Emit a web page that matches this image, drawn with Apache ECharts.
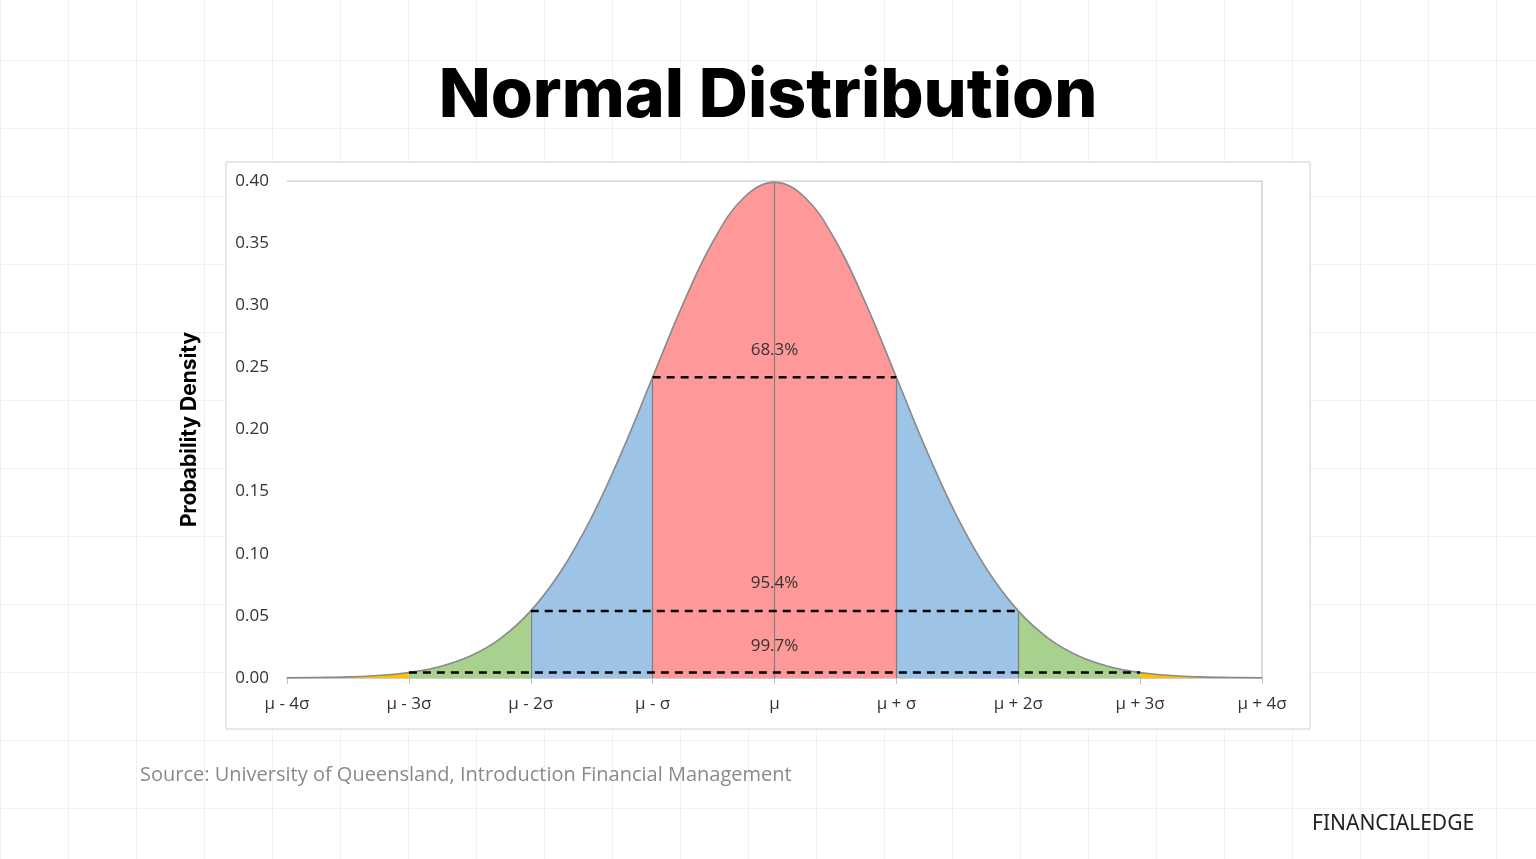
<!DOCTYPE html>
<html>
<head>
<meta charset="utf-8">
<script src="https://cdn.jsdelivr.net/npm/echarts@6/dist/echarts.min.js"></script>
<style>
  html, body { margin:0; padding:0; width:1536px; height:859px; overflow:hidden; background:#fff; }
  body {
    background-image:
      linear-gradient(to right, #f1f1f1 1px, transparent 1px),
      linear-gradient(to bottom, #f1f1f1 1px, transparent 1px);
    background-size: 68px 68px;
    background-position: 0px -8px;
  }
  #main { width:1536px; height:859px; }
</style>
</head>
<body>
<div id="main"></div>
<script>
// x in units of sigma, y = probability density
var xs = [-4,-3.75,-3.5,-3.25,-3,-2.75,-2.5,-2.25,-2,-1.75,-1.5,-1.25,-1,-0.75,-0.5,-0.25,0,
          0.25,0.5,0.75,1,1.25,1.5,1.75,2,2.25,2.5,2.75,3,3.25,3.5,3.75,4];
var ys = [0.0001,0.0004,0.0009,0.0020,0.0044,0.0091,0.0175,0.0317,0.0540,0.0863,0.1295,0.1826,0.2420,0.3011,0.3521,0.3867,0.3989,
          0.3867,0.3521,0.3011,0.2420,0.1826,0.1295,0.0863,0.0540,0.0317,0.0175,0.0091,0.0044,0.0020,0.0009,0.0004,0.0001];
var tickLabels = {'-4':'μ - 4σ','-3':'μ - 3σ','-2':'μ - 2σ','-1':'μ - σ','0':'μ','1':'μ + σ','2':'μ + 2σ','3':'μ + 3σ','4':'μ + 4σ'};
var bands = [ // [from, to, colour]
  [-4,-3,'#ffc000'],[-3,-2,'#a9d18e'],[-2,-1,'#9dc3e6'],[-1,1,'#ff9999'],
  [1,2,'#9dc3e6'],[2,3,'#a9d18e'],[3,4,'#ffc000']
];
var ranges = [ // [half-width in sigma, dashed level, label, label y]
  [1,0.242,'68.3%',0.264],[2,0.054,'95.4%',0.076],[3,0.0044,'99.7%',0.026]
];

function seg(a,b){
  var out=[];
  for(var i=0;i<xs.length;i++){ if(xs[i]>=a && xs[i]<=b) out.push([xs[i],ys[i]]); }
  return out;
}
function yAt(x){ return ys[xs.indexOf(x)]; }

var series = bands.map(function(b){
  return { type:'line', data:seg(b[0],b[1]), smooth:0.4, showSymbol:false, silent:true,
    lineStyle:{width:0}, areaStyle:{color:b[2], opacity:1} };
});

var vLines = [-2,-1,0,1,2].map(function(x){
  return [{coord:[x,0]},{coord:[x,yAt(x)]}];
});

series.push({
  type:'line', data:xs.map(function(x,i){return [x,ys[i]];}), smooth:0.4, showSymbol:false,
  lineStyle:{color:'#8a8a8a', width:1.6}, z:5,
  markLine:{ silent:true, symbol:'none', label:{show:false},
    lineStyle:{type:'solid', color:'#7f7f7f', width:1.2},
    data: vLines },
  markPoint:{ symbol:'circle', symbolSize:0, silent:true,
    label:{show:true, color:'#333', fontSize:17, fontFamily:'Open Sans', formatter:'{b}'},
    data: ranges.map(function(r){ return {name:r[2], coord:[0,r[3]]}; }) }
});

ranges.forEach(function(r){
  series.push({ type:'line', data:[[-r[0],r[1]],[r[0],r[1]]], showSymbol:false, silent:true, z:6,
    lineStyle:{type:[8,6], color:'#000', width:2.5} });
});

var chart = echarts.init(document.getElementById('main'));
chart.setOption({
  animation:false,
  title:{ text:'Normal Distribution', left:'center', top:58,
    textStyle:{fontFamily:'Inter', fontWeight:800, fontSize:68, color:'#000'} },
  graphic:[
    {type:'rect', shape:{x:226,y:162,width:1084,height:567}, style:{fill:'#fff', stroke:'#d0d0d0', lineWidth:1}, z:-10},
    {type:'text', left:140, top:765, style:{text:'Source: University of Queensland, Introduction Financial Management', fill:'#8a8a8a', font:'20px "Open Sans"'}},
    {type:'text', left:1312, top:814, style:{text:'FINANCIALEDGE', fill:'#222', font:'21px "Liberation Sans Narrow", "Noto Sans"'}}
  ],
  grid:{ left:287, right:274, top:181, bottom:181 },
  xAxis:{ type:'value', min:-4, max:4, interval:1,
    axisLine:{show:true, lineStyle:{color:'#bfbfbf', width:1.5}},
    axisTick:{show:true, length:6, lineStyle:{color:'#bfbfbf'}},
    splitLine:{show:false},
    axisLabel:{ margin:18, color:'#333', fontSize:17, fontFamily:'Open Sans',
      formatter:function(v){ return tickLabels[String(v)]; } } },
  yAxis:{ type:'value', min:0, max:0.4, interval:0.05,
    name:'Probability Density', nameLocation:'middle', nameGap:87, nameRotate:90,
    nameTextStyle:{fontFamily:'Inter', fontWeight:'bold', fontSize:21, color:'#000'},
    axisLine:{show:true, lineStyle:{color:'#bfbfbf', width:1.5}},
    axisTick:{show:true, length:5, lineStyle:{color:'#bfbfbf'}},
    splitLine:{show:false},
    axisLabel:{ color:'#333', fontSize:17, fontFamily:'Open Sans', margin:18,
      formatter:function(v){ return v.toFixed(2); } } },
  series: series.concat([{ type:'line', data:[[-4,0.4],[4,0.4],[4,0]], showSymbol:false, silent:true,
    lineStyle:{color:'#d0d0d0', width:1.5} }])
});
</script>
</body>
</html>
